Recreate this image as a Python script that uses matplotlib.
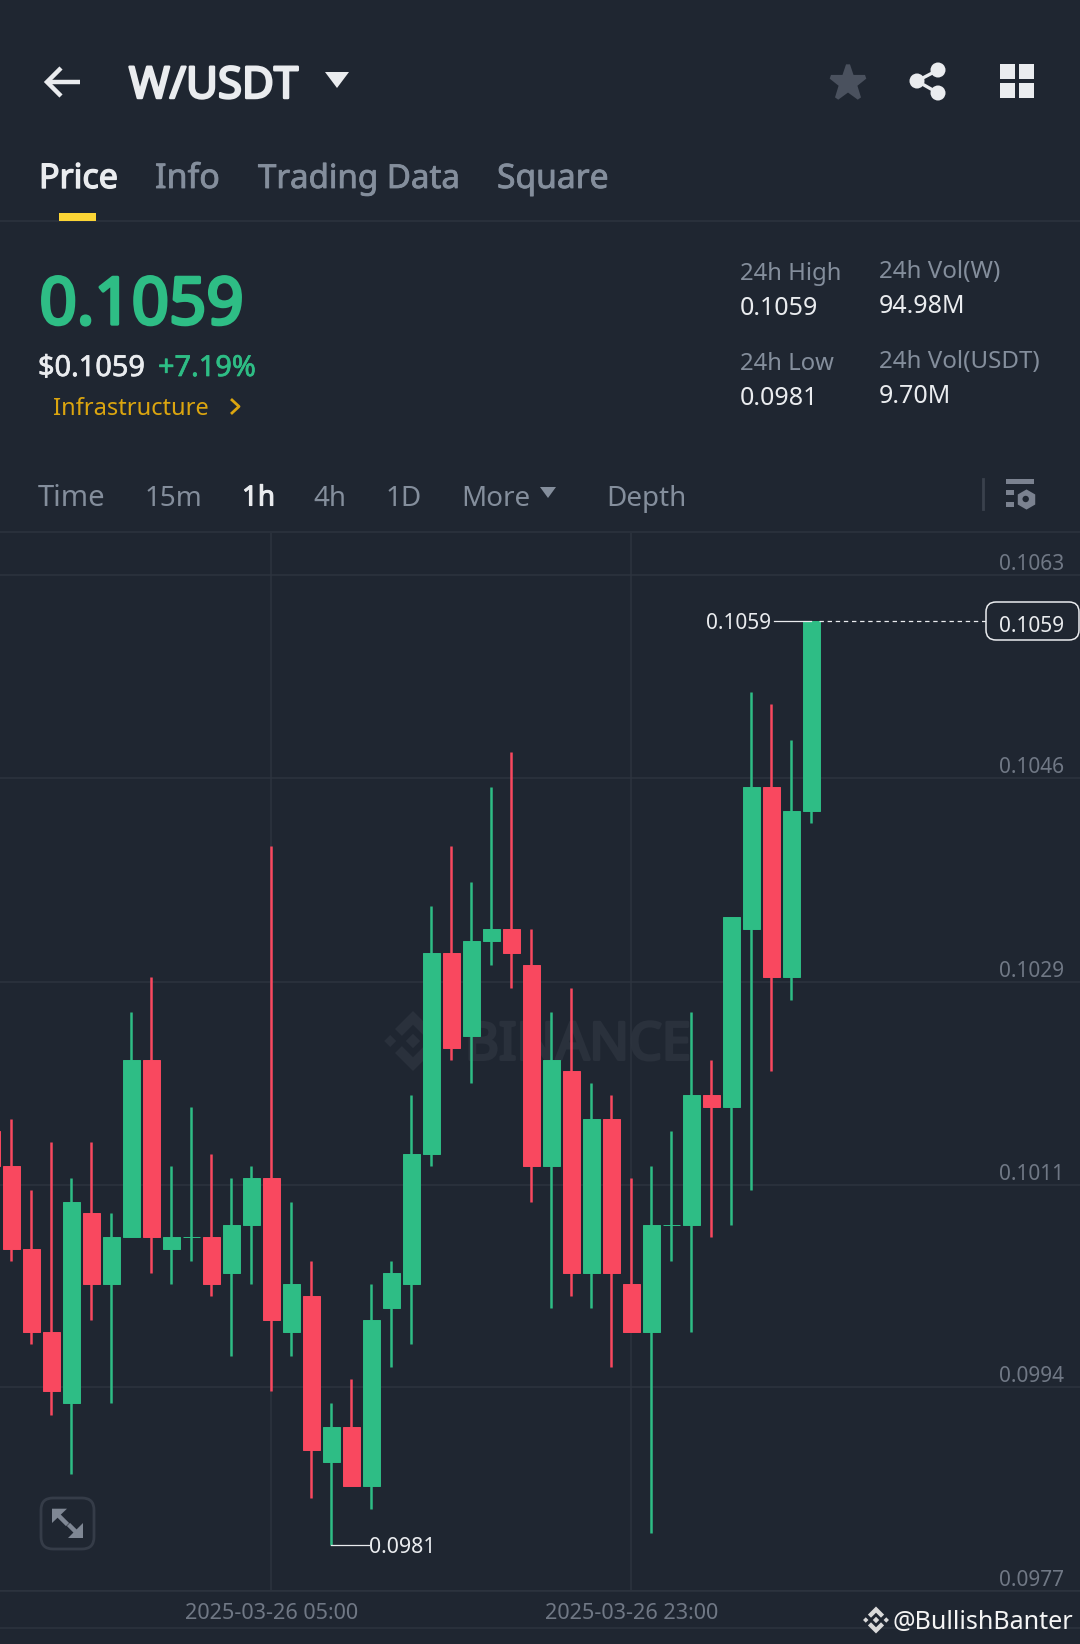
import numpy as np
import matplotlib
matplotlib.use("Agg")
import matplotlib.pyplot as plt
import matplotlib.patheffects as pe
from matplotlib.patches import FancyBboxPatch, Polygon, Circle, Rectangle

# ---------- data ----------
OPEN = [0.1016,0.1013,0.1006,0.0999,0.0993,0.1009,0.1003,0.1007,0.1022,0.1006,0.1007,0.1007,0.1004,0.1008,
        0.1012,0.0999,0.1002,0.0988,0.0991,0.0986,0.1001,0.1003,0.1014,0.1031,0.1024,0.1032,0.1033,0.1030,
        0.1013,0.1021,0.1004,0.1017,0.1003,0.0999,0.1008,0.1008,0.1019,0.1018,0.1033,0.1045,0.1029,0.1043]
CLOSE = [0.1013,0.1006,0.0999,0.0994,0.1010,0.1003,0.1007,0.1022,0.1007,0.1007,0.1007,0.1003,0.1008,0.1012,
         0.1000,0.1003,0.0989,0.0991,0.0986,0.1000,0.1004,0.1014,0.1031,0.1023,0.1032,0.1033,0.1031,0.1013,
         0.1022,0.1004,0.1017,0.1004,0.0999,0.1008,0.1008,0.1019,0.1018,0.1034,0.1045,0.1029,0.1043,0.1059]
HIGH = [0.1016,0.1017,0.1011,0.1015,0.1012,0.1015,0.1009,0.1026,0.1029,0.1013,0.1018,0.1014,0.1012,0.1013,
        0.1040,0.1010,0.1005,0.0993,0.0995,0.1003,0.1005,0.1019,0.1035,0.1040,0.1037,0.1045,0.1048,0.1033,
        0.1026,0.1028,0.1020,0.1019,0.1012,0.1013,0.1016,0.1026,0.1022,0.1034,0.1053,0.1052,0.1049,0.1059]
LOW = [0.1013,0.1005,0.0998,0.0992,0.0987,0.1000,0.0993,0.1007,0.1004,0.1003,0.1005,0.1002,0.0997,0.1003,
       0.0994,0.0997,0.0985,0.0981,0.0986,0.0984,0.0996,0.0998,0.1013,0.1022,0.1020,0.1030,0.1028,0.1010,
       0.1001,0.1002,0.1001,0.0996,0.0999,0.0982,0.1005,0.0999,0.1007,0.1008,0.1011,0.1021,0.1027,0.1042]
PRICE_TICKS = [0.106295, 0.104576, 0.102858, 0.101140, 0.099430, 0.097714]
PRICE_LABELS = ["0.1063", "0.1046", "0.1029", "0.1011", "0.0994", "0.0977"]
TIME_TICKS = [14, 32]
TIME_LABELS = ["2025-03-26 05:00", "2025-03-26 23:00"]
HIGH_LABEL = "0.1059"
LOW_LABEL = "0.0981"
LAST_PRICE = 0.1059

BG = "#1f2631"; GREEN = "#2ebd85"; RED = "#f9485f"; GRID = "#2d343f"
GRAY = "#848e9c"; AXGRAY = "#707885"; WHITE = "#eaecef"; ICON = "#7b8290"
plt.rcParams["font.family"] = ["Noto Sans", "DejaVu Sans"]

W, H = 1080, 1644
fig = plt.figure(figsize=(W / 100, H / 100), dpi=100, facecolor=BG)

under = fig.add_axes([0, 0, 1, 1], zorder=0); under.set_xlim(0, W); under.set_ylim(H, 0); under.axis("off")
ui = fig.add_axes([0, 0, 1, 1], zorder=5); ui.set_xlim(0, W); ui.set_ylim(H, 0); ui.axis("off"); ui.patch.set_alpha(0)


def logo(a, cx, cy, s, color, z=2):
    def diamond(x, y, r):
        a.add_patch(Polygon([(x, y - r), (x + r, y), (x, y + r), (x - r, y)], fc=color, ec="none", zorder=z))
    diamond(cx, cy, 0.24 * s); diamond(cx - 0.76 * s, cy, 0.2 * s); diamond(cx + 0.76 * s, cy, 0.2 * s)
    for sg in (-1, 1):
        a.add_patch(Polygon([(cx, cy + sg * s), (cx + 0.6 * s, cy + sg * 0.4 * s), (cx + 0.37 * s, cy + sg * 0.17 * s),
                             (cx, cy + sg * 0.54 * s), (cx - 0.37 * s, cy + sg * 0.17 * s), (cx - 0.6 * s, cy + sg * 0.4 * s)],
                            fc=color, ec="none", zorder=z))


def stroke(color, w):
    return [pe.withStroke(linewidth=w, foreground=color)]


# chart watermark
logo(under, 413, 1041, 30, "#2a313c")
under.text(465, 1059.5, "BINANCE", color="#2a313c", fontsize=37.5, va="baseline", path_effects=stroke("#2a313c", 2.2))

# ---------- chart ----------
top_px, bot_px = 533, 1591
ax = fig.add_axes([0, 1 - bot_px / H, 1, (bot_px - top_px) / H], zorder=2)
ax.patch.set_alpha(0)
x = np.arange(len(OPEN))
o, c, h, l = map(np.array, (OPEN, CLOSE, HIGH, LOW))
colors = [GREEN if cc >= oo else RED for oo, cc in zip(o, c)]
ax.set_xlim(0.43, 54.43)
ax.set_ylim(0.097711, 0.106647)
ax.set_xticks(TIME_TICKS); ax.set_yticks(PRICE_TICKS)
ax.set_xticklabels([]); ax.set_yticklabels([])
ax.grid(True, color=GRID, lw=1.1); ax.set_axisbelow(True)
ax.tick_params(length=0)
for s in ax.spines.values():
    s.set_visible(False)
ax.vlines(x, l, h, colors=colors, lw=1.8, zorder=3)
ax.bar(x, np.abs(c - o), bottom=np.minimum(o, c), width=0.82, color=colors, edgecolor=colors, lw=0.7, zorder=4)
for v, lab in zip(PRICE_TICKS, PRICE_LABELS):
    ax.annotate(lab, xy=(1, v), xycoords=("axes fraction", "data"), xytext=(-16, 5), textcoords="offset pixels",
                ha="right", va="baseline", color=AXGRAY, fontsize=15, annotation_clip=False)
for t, lab in zip(TIME_TICKS, TIME_LABELS):
    ax.annotate(lab, xy=(t, 0), xycoords=("data", "axes fraction"), xytext=(0, -28), textcoords="offset pixels",
                ha="center", va="baseline", color=AXGRAY, fontsize=15.6, annotation_clip=False)
# high / low / last markers
ih, il = int(np.argmax(h)), int(np.argmin(l))
ax.plot([x[ih] - 1.85, x[ih]], [h[ih]] * 2, color=WHITE, lw=0.9, zorder=5)
ax.annotate(HIGH_LABEL, xy=(x[ih] - 1.85, h[ih]), xytext=(-3, -8), textcoords="offset pixels", ha="right", va="baseline",
            color=WHITE, fontsize=15)
ax.plot([x[il], x[il] + 1.87], [l[il]] * 2, color=WHITE, lw=0.9, zorder=5)
ax.annotate(LOW_LABEL, xy=(x[il] + 1.87, l[il]), xytext=(0, -8), textcoords="offset pixels", ha="left", va="baseline",
            color=WHITE, fontsize=15.4)
ax.plot([x[ih] + 0.4, 49.75], [LAST_PRICE] * 2, color=WHITE, lw=0.9, dashes=(3.5, 3), zorder=5)
ui.add_patch(FancyBboxPatch((992, 608), 81, 26, boxstyle="round,pad=6,rounding_size=10", fc=BG, ec=WHITE, lw=1.1, zorder=6))
ui.text(1064.4, 632.3, f"{LAST_PRICE:.4f}", color=WHITE, fontsize=15, ha="right", va="baseline", zorder=7)

# horizontal frame lines
for yy in (221.4, 532.5, 1590.8, 1628):
    ui.plot([0, W], [yy, yy], color=GRID, lw=1.1, zorder=1)


# ---------- header ----------
def T(px, py, s, color=WHITE, size=18, heavy=0, **kw):
    if heavy:
        kw["path_effects"] = stroke(color, heavy)
    ui.text(px, py, s, color=color, fontsize=size, va="baseline", **kw)


ui.plot([47, 80], [82, 82], color=WHITE, lw=3.2, solid_capstyle="butt")
ui.plot([61, 47, 61], [68, 82, 96], color=WHITE, lw=3.2, solid_joinstyle="miter", solid_capstyle="butt")
T(129, 98, "W/USDT", size=31.5, heavy=1.8)
ui.add_patch(Polygon([(325, 72), (349, 72), (337, 88)], fc=WHITE, ec="none"))
ui.plot([848], [83.5], marker="*", ms=26, color="#4a515e", mec="#4a515e", mew=3, mfc="#4a515e")
for nx, ny in [(917, 81), (938, 70), (938, 93)]:
    ui.add_patch(Circle((nx, ny), 7.5, fc=WHITE, ec="none"))
ui.plot([938, 917, 938], [70, 81, 93], color=WHITE, lw=2.4)
for gx in (1000.3, 1019):
    for gy in (64.3, 83):
        ui.add_patch(Rectangle((gx, gy), 14.8, 14.8, fc=WHITE, ec="none"))

T(39, 188, "Price", size=24.5, heavy=1.0)
T(155, 188, "Info", GRAY, 24.5, 0.6)
T(258, 188, "Trading Data", GRAY, 23.8, 0.6)
T(497, 188, "Square", GRAY, 24.2, 0.6)
ui.add_patch(Rectangle((59, 213), 37, 8, fc="#fcd535", ec="none"))

T(39.5, 324, "0.1059", GREEN, 47, 2.4)
T(38, 376, "$0.1059", WHITE, 20.8, 0.5)
T(158, 376, "+7.19%", GREEN, 20.8, 0.5)
T(53, 415, "Infrastructure", "#dba50f", 17)
ui.plot([232, 239, 232], [400, 406.5, 413], color="#dba50f", lw=2)

T(740, 280, "24h High", GRAY, 17.2)
T(740, 315, "0.1059", WHITE, 18)
T(740, 370, "24h Low", GRAY, 17.2)
T(740, 405, "0.0981", WHITE, 18)
T(879, 278, "24h Vol(W)", GRAY, 17.4)
T(879, 313, "94.98M", WHITE, 18)
T(879, 368, "24h Vol(USDT)", GRAY, 17.4)
T(879, 403, "9.70M", WHITE, 18)

T(38, 505.5, "Time", GRAY, 21)
T(145, 505.5, "15m", GRAY, 20)
T(242, 505.5, "1h", WHITE, 20, 0.8)
T(313, 505.5, "4h", GRAY, 20)
T(386, 505.5, "1D", GRAY, 20)
T(461, 505.5, "More", GRAY, 20)
ui.add_patch(Polygon([(540, 487), (556, 487), (548, 498)], fc=GRAY, ec="none"))
T(606, 505.5, "Depth", GRAY, 20)
ui.plot([983.3, 983.3], [479, 509], color="#3a414d", lw=2)
ui.add_patch(Rectangle((1006, 479.3), 28.3, 5, fc=ICON, ec="none"))
ui.add_patch(Rectangle((1006, 490), 8, 5, fc=ICON, ec="none"))
ui.add_patch(Rectangle((1006, 501.7), 8, 5, fc=ICON, ec="none"))
ui.plot([1025.7], [499], marker="h", ms=14.5, mfc=ICON, mec=ICON, mew=0)
ui.add_patch(Circle((1025.7, 499), 3.2, fc=BG, ec="none", zorder=4))

# expand button
ui.add_patch(FancyBboxPatch((50, 1507), 35, 33, boxstyle="round,pad=9,rounding_size=12", fc="none", ec="#353c48", lw=2))
ui.plot([60, 66], [1517, 1523], color="#7f8794", lw=3.2)
ui.plot([70, 76], [1526, 1532], color="#7f8794", lw=3.2)
ui.add_patch(Polygon([(52, 1508.7), (67, 1508.7), (52, 1523)], fc="#7f8794", ec="none"))
ui.add_patch(Polygon([(83, 1538), (68, 1538), (83, 1523)], fc="#7f8794", ec="none"))

# user watermark
logo(ui, 876, 1620, 13.5, "#d9d9d9", z=8)
T(893, 1629, "@BullishBanter", "#f4f4f4", 18.1, zorder=8)

fig.savefig("out.png", dpi=100, facecolor=BG)
